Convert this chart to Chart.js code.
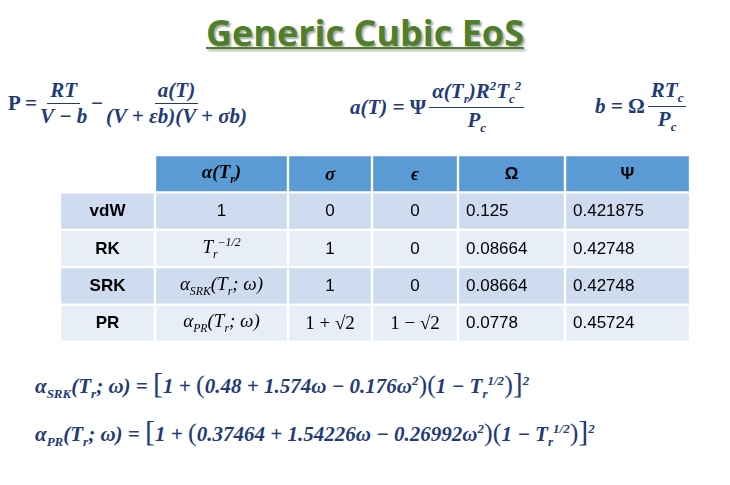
<!DOCTYPE html>
<html><head><meta charset="utf-8">
<script src="https://cdn.jsdelivr.net/npm/chart.js@4"></script>
<style>
body{margin:0;width:730px;height:485px;background:#fff;position:relative;overflow:hidden;font-family:"Liberation Serif",serif}
.t{position:absolute;left:0;width:730px;top:8px;text-align:center;font:bold 36px "Open Sans",sans-serif;color:#4f7f2a;text-decoration:underline;text-decoration-thickness:2px;text-shadow:2px 2px 2px #aaa}
.eq{position:absolute;color:#1f3c78;font-weight:bold;font-style:italic;font-size:21px;white-space:nowrap;font-family:"Liberation Serif",serif}
.eq>span{vertical-align:middle}
.fr{display:inline-flex;flex-direction:column;align-items:center;margin:0 3px;vertical-align:middle}
.fr>span:first-child{border-bottom:1.5px solid #1f3c78;padding:0 3px}
.n{font-style:normal}
sub,sup{font-size:62%}
.cell{position:absolute;transform:translate(-50%,-50%);white-space:nowrap;font:17px "Liberation Sans",sans-serif;color:#000}
.m{font-family:"Liberation Serif",serif;font-style:italic;font-size:19px}
#wrap{position:absolute;left:60px;top:155px;width:630px;height:187px}
.b{font-style:normal;font-weight:normal;font-size:30px}
.p{font-style:normal;font-weight:normal;font-size:26px}
</style></head><body>
<div class="t">Generic Cubic EoS</div>
<div class="eq" style="left:8px;top:78px"><span class="n">P =</span><span class="fr"><span>RT</span><span>V − b</span></span><span>−</span><span class="fr"><span>a(T)</span><span>(V + εb)(V + σb)</span></span></div>
<div class="eq" style="left:350px;top:78px"><span>a(T) = <span class="n">Ψ</span></span><span class="fr"><span>α(T<sub>r</sub>)R<sup>2</sup>T<sub>c</sub><sup>2</sup></span><span>P<sub>c</sub></span></span></div>
<div class="eq" style="left:595px;top:78px"><span>b = <span class="n">Ω</span></span><span class="fr"><span>RT<sub>c</sub></span><span>P<sub>c</sub></span></span></div>
<div id="wrap"><canvas id="tbl"></canvas></div>
<div id="cells"></div>
<div class="eq" style="left:35px;top:366px"><span>α<sub>SRK</sub>(T<sub>r</sub>; ω) = <span class="b">[</span>1 + <span class="p">(</span>0.48 + 1.574ω − 0.176ω<sup>2</sup><span class="p">)</span><span class="p">(</span>1 − T<sub>r</sub><sup>1/2</sup><span class="p">)</span><span class="b">]</span><sup>2</sup></span></div>
<div class="eq" style="left:35px;top:414px"><span>α<sub>PR</sub>(T<sub>r</sub>; ω) = <span class="b">[</span>1 + <span class="p">(</span>0.37464 + 1.54226ω − 0.26992ω<sup>2</sup><span class="p">)</span><span class="p">(</span>1 − T<sub>r</sub><sup>1/2</sup><span class="p">)</span><span class="b">]</span><sup>2</sup></span></div>
<script>
const rowLabels = ['', 'vdW', 'RK', 'SRK', 'PR'];
const headers = ['', '<span class="m">α(T<sub>r</sub>)</span>', '<span class="m">σ</span>', '<span class="m">ϵ</span>', 'Ω', 'Ψ'];
const alphaCol = ['1', '<span class="m">T<sub>r</sub><sup>−1/2</sup></span>', '<span class="m">α<sub>SRK</sub>(T<sub>r</sub>; ω)</span>', '<span class="m">α<sub>PR</sub>(T<sub>r</sub>; ω)</span>'];
const sigmaCol = ['1'.replace('1','0'), '1', '1', '<span class="m" style="font-style:normal">1 + √2</span>'];
const epsCol = ['0', '0', '0', '<span class="m" style="font-style:normal">1 − √2</span>'];
const omegaCol = ['0.125', '0.08664', '0.08664', '0.0778'];
const psiCol = ['0.421875', '0.42748', '0.42748', '0.45724'];
const colEdges = [0, 95, 228, 312, 398, 505, 630];
const rowColors = ['#5b9bd5', '#cfdcef', '#e8eef7', '#cfdcef', '#e8eef7'];

const datasets = colEdges.slice(0, -1).map((e, c) => ({
  data: rowLabels.map((_, r) => (r === 0 && c === 0) ? null : [e, colEdges[c + 1]]),
  backgroundColor: rowLabels.map((_, r) => rowColors[r]),
  borderColor: '#fff', borderWidth: 1.5, borderSkipped: false,
  barPercentage: 1, categoryPercentage: 1, grouped: false
}));

const cellText = (r, c) => {
  if (r === 0) return headers[c];
  const i = r - 1;
  return [ '<b>' + rowLabels[r] + '</b>', alphaCol[i], sigmaCol[i], epsCol[i], omegaCol[i], psiCol[i] ][c];
};

const textPlugin = {
  id: 'cellText',
  afterDraw(chart) {
    const box = document.getElementById('cells');
    box.innerHTML = '';
    const xs = chart.scales.x, ys = chart.scales.y;
    rowLabels.forEach((_, r) => {
      for (let c = 0; c < 6; c++) {
        const s = cellText(r, c);
        if (!s) continue;
        const d = document.createElement('div');
        d.className = 'cell';
        let cx = (xs.getPixelForValue(colEdges[c]) + xs.getPixelForValue(colEdges[c + 1])) / 2;
        if (r > 0 && c >= 4) { cx = xs.getPixelForValue(colEdges[c]) + 8; d.style.transform = 'translate(0,-50%)'; }
        d.style.left = (60 + cx) + 'px';
        d.style.top = (155 + ys.getPixelForValue(r)) + 'px';
        if (r === 0) { d.style.fontWeight = 'bold'; }
        d.innerHTML = s;
        box.appendChild(d);
      }
    });
  }
};

new Chart(document.getElementById('tbl'), {
  type: 'bar',
  data: { labels: rowLabels, datasets },
  options: {
    indexAxis: 'y', responsive: true, maintainAspectRatio: false, animation: false,
    layout: { padding: 0 },
    scales: { x: { display: false, min: 0, max: 630 }, y: { display: false } },
    plugins: { legend: { display: false }, tooltip: { enabled: false } }
  },
  plugins: [textPlugin]
});
</script>
</body></html>
